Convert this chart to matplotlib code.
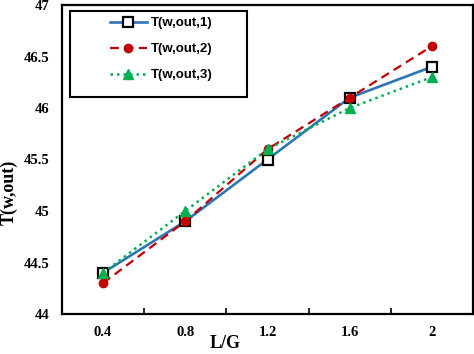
import matplotlib
matplotlib.use("Agg")
import matplotlib.pyplot as plt
from matplotlib.patches import Rectangle

categories = ["0.4", "0.8", "1.2", "1.6", "2"]
t1 = [44.4, 44.9, 45.5, 46.1, 46.4]
t2 = [44.3, 44.9, 45.6, 46.1, 46.6]
t3 = [44.4, 45.0, 45.6, 46.0, 46.3]
labels = ["T(w,out,1)", "T(w,out,2)", "T(w,out,3)"]
yticks = [44, 44.5, 45, 45.5, 46, 46.5, 47]
ytick_labels = ["44", "44.5", "45", "45.5", "46", "46.5", "47"]

fig = plt.figure(figsize=(4.74, 3.54), dpi=100)
ax = fig.add_axes([62/474, 40/354, 411/474, 309/354])

x = list(range(len(categories)))
ax.plot(x, t1, color="#2E75B6", lw=1.9, marker="s", ms=7.5, mfc="white",
        mec="black", mew=1.6, label=labels[0], zorder=3)
ax.plot(x, t2, color="#C00000", lw=1.6, ls=(0, (4, 2.5)), marker="o", ms=6,
        mfc="#C00000", mec="#C00000", label=labels[1], zorder=4)
ax.plot(x, t3, color="#00B050", lw=1.8, ls=(0, (1, 1.6)), marker="^", ms=6.5,
        mfc="#00B050", mec="#00B050", label=labels[2], zorder=5)

ax.set_xlim(-0.5, len(categories) - 0.5)
ax.set_ylim(44, 47)
ax.set_xticks(x)
ax.set_xticklabels(categories)
ax.set_xticks([i + 0.5 for i in x[:-1]], minor=True)
ax.set_yticks(yticks)
ax.set_yticklabels(ytick_labels)

for lab in ax.get_xticklabels() + ax.get_yticklabels():
    lab.set_fontfamily("Liberation Serif")
    lab.set_fontweight("bold")
    lab.set_fontsize(10.5)
ax.tick_params(axis="x", which="major", length=0, pad=9)
ax.tick_params(axis="x", which="minor", direction="in", length=4, width=1.2)
ax.tick_params(axis="y", length=0, pad=9)

for s in ax.spines.values():
    s.set_linewidth(1.6)

ax.set_ylabel("T(w,out)", family="Liberation Serif", weight="bold", size=13,
              va="center")
ax.yaxis.set_label_coords(-0.128, 0.395)
ax.set_xlabel("L/G", family="Liberation Serif", weight="bold", size=13,
              va="center")
ax.xaxis.set_label_coords(0.397, -0.095)

ax.add_patch(Rectangle((8/411, (314-97)/309), 177/411, 86/309,
                       transform=ax.transAxes, fill=True, facecolor="white",
                       edgecolor="black", lw=1.5, zorder=6))
leg = ax.legend(loc="upper left", bbox_to_anchor=(48/411, (314-17)/309),
                frameon=False, borderpad=0, borderaxespad=0,
                handlelength=2.8, handletextpad=0.3, labelspacing=1.05,
                numpoints=1,
                prop=dict(family="Liberation Sans", weight="bold", size=9.5))
leg.set_zorder(7)

fig.savefig("out.png", dpi=100)
